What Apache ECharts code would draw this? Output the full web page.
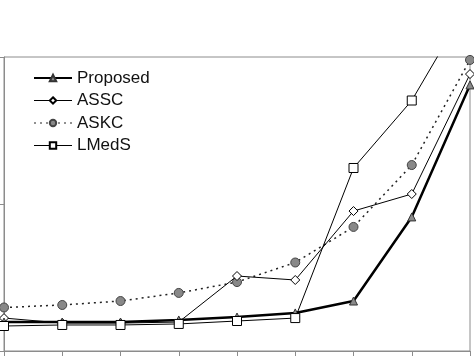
<!DOCTYPE html>
<html>
<head>
<meta charset="utf-8">
<script src="https://cdn.jsdelivr.net/npm/echarts@6/dist/echarts.min.js"></script>
<style>
html,body{margin:0;padding:0;background:#fff;}
#chart{width:474px;height:356px;}
</style>
</head>
<body>
<div id="chart"></div>
<script>
var categories = ['1','2','3','4','5','6','7','8','9'];
var proposed = [0.197, 0.197, 0.197, 0.211, 0.231, 0.259, 0.340, 0.912, 1.810];
var assc     = [0.224, 0.190, 0.190, 0.197, 0.510, 0.483, 0.952, 1.068, 1.884];
var askc     = [0.296, 0.313, 0.340, 0.395, 0.469, 0.602, 0.844, 1.265, 1.980];
var lmeds    = [0.170, 0.177, 0.177, 0.184, 0.204, 0.224, 1.245, 1.704, 2.380];
var yTicks = [0, 1, 2];

var chart = echarts.init(document.getElementById('chart'), null, {renderer: 'canvas'});
var axisGray = '#8c8c8c';
chart.setOption({
  animation: false,
  backgroundColor: '#fff',
  grid: {
    left: 4, right: 4, top: 57, bottom: 5,
    show: true, borderColor: axisGray, borderWidth: 1, backgroundColor: 'transparent'
  },
  legend: {
    orient: 'vertical',
    left: 33,
    top: 69,
    padding: 0,
    itemWidth: 38,
    itemHeight: 8,
    itemGap: 4.5,
    textStyle: {fontFamily: 'Liberation Sans, Arial, sans-serif', fontSize: 17, color: '#111', lineHeight: 18},
    data: [
      {name: 'Proposed', lineStyle: {width: 2}},
      {name: 'ASSC', lineStyle: {width: 1}},
      {name: 'ASKC', lineStyle: {width: 1}},
      {name: 'LMedS', lineStyle: {width: 1}}
    ]
  },
  xAxis: {
    type: 'category',
    data: categories,
    boundaryGap: false,
    axisLine: {show: true, lineStyle: {color: axisGray, width: 1}},
    axisTick: {show: true, inside: false, length: 5, lineStyle: {color: axisGray}},
    axisLabel: {show: false},
    splitLine: {show: false}
  },
  yAxis: {
    type: 'value',
    min: yTicks[0], max: yTicks[yTicks.length - 1], interval: 1,
    axisLine: {show: true, lineStyle: {color: axisGray, width: 1}},
    axisTick: {show: true, inside: false, length: 4, lineStyle: {color: axisGray}},
    axisLabel: {show: false},
    splitLine: {show: false}
  },
  series: [
    {
      name: 'Proposed', type: 'line', data: proposed, clip: true,
      symbol: 'triangle', symbolSize: 8,
      lineStyle: {color: '#000', width: 2.5},
      itemStyle: {color: '#8a8a8a', borderColor: '#333', borderWidth: 1},
      z: 4
    },
    {
      name: 'ASSC', type: 'line', data: assc, clip: true,
      symbol: 'diamond', symbolSize: 9,
      lineStyle: {color: '#000', width: 1},
      itemStyle: {color: '#fff', borderColor: '#000', borderWidth: 1},
      z: 3
    },
    {
      name: 'ASKC', type: 'line', data: askc, clip: true,
      symbol: 'circle', symbolSize: 9,
      lineStyle: {color: '#222', width: 1.5, type: [2, 4]},
      itemStyle: {color: '#888', borderColor: '#444', borderWidth: 1},
      z: 2
    },
    {
      name: 'LMedS', type: 'line', data: lmeds, clip: true,
      symbol: 'rect', symbolSize: 9,
      lineStyle: {color: '#000', width: 1},
      itemStyle: {color: '#fff', borderColor: '#000', borderWidth: 1},
      z: 5
    }
  ]
});
</script>
</body>
</html>
